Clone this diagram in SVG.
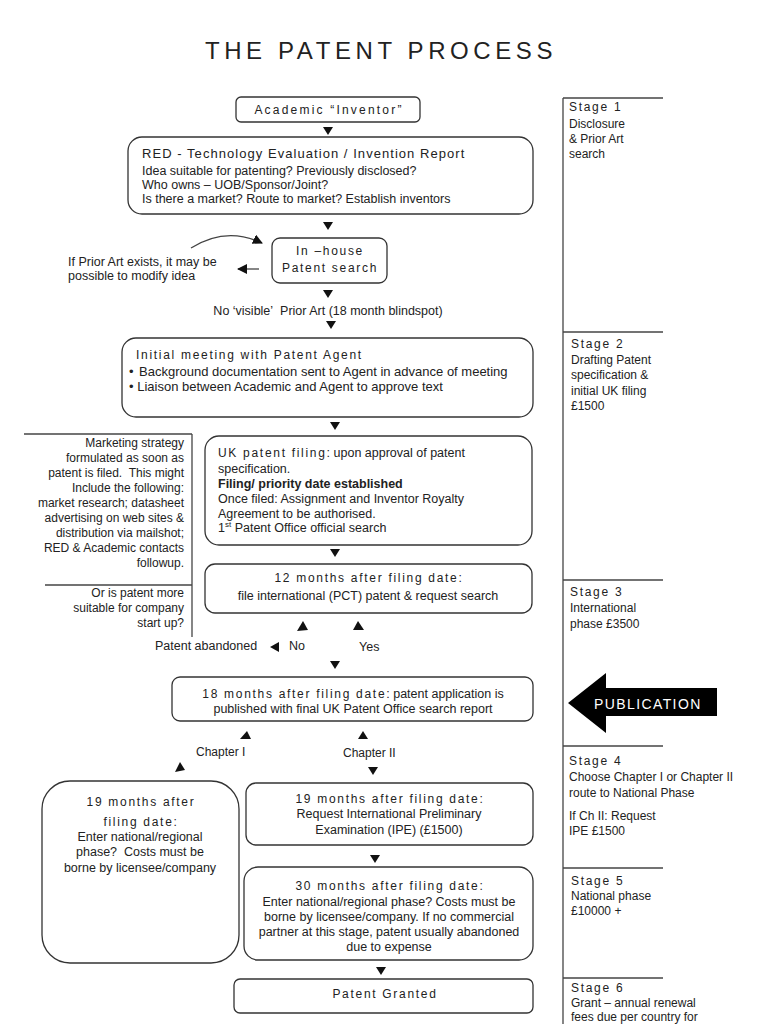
<svg xmlns="http://www.w3.org/2000/svg" width="768" height="1024" viewBox="0 0 768 1024">
<defs>
<style>
.t{font-family:"Liberation Sans",Arial,Helvetica,sans-serif;font-size:12px;fill:#222}
.b{font-size:12.5px}
.sp{font-size:12px;letter-spacing:1.7px}
.m{text-anchor:middle}
.e{text-anchor:end}
.box{fill:#fff;stroke:#333;stroke-width:1.3}
.ln{fill:none;stroke:#444;stroke-width:1.3}
.tri{fill:#111}
</style>
<marker id="ah" viewBox="0 0 10 10" refX="9" refY="5" markerUnits="userSpaceOnUse" markerWidth="10" markerHeight="10" orient="auto">
<path d="M0,0 L10,5 L0,10 z" fill="#111"/>
</marker>
</defs>
<rect width="768" height="1024" fill="#fff"/>

<text x="381" y="59" class="t m" style="font-size:24px;letter-spacing:4.6px">THE PATENT PROCESS</text>

<!-- stage column -->
<g id="stages">
<line x1="563" y1="98" x2="563" y2="1024" class="ln"/>
<line x1="563" y1="98" x2="663" y2="98" class="ln"/>
<line x1="563" y1="332" x2="663" y2="332" class="ln"/>
<line x1="563" y1="580" x2="663" y2="580" class="ln"/>
<line x1="563" y1="746" x2="663" y2="746" class="ln"/>
<line x1="563" y1="868" x2="663" y2="868" class="ln"/>
<line x1="563" y1="978" x2="663" y2="978" class="ln"/>
<text x="569" y="111" class="t sp">Stage 1</text>
<text x="569" y="128" class="t">Disclosure</text>
<text x="569" y="143" class="t">&amp; Prior Art</text>
<text x="569" y="158" class="t">search</text>
<text x="571" y="348" class="t sp">Stage 2</text>
<text x="571" y="364" class="t">Drafting Patent</text>
<text x="571" y="379" class="t">specification &amp;</text>
<text x="571" y="395" class="t">initial UK filing</text>
<text x="571" y="410" class="t">£1500</text>
<text x="570" y="596" class="t sp">Stage 3</text>
<text x="570" y="612" class="t">International</text>
<text x="570" y="628" class="t">phase £3500</text>
<text x="569" y="765" class="t sp">Stage 4</text>
<text x="569" y="781" class="t">Choose Chapter I or Chapter II</text>
<text x="569" y="797" class="t">route to National Phase</text>
<text x="569" y="820" class="t">If Ch II: Request</text>
<text x="569" y="835" class="t">IPE £1500</text>
<text x="571" y="885" class="t sp">Stage 5</text>
<text x="571" y="900" class="t">National phase</text>
<text x="571" y="915" class="t">£10000 +</text>
<text x="571" y="992" class="t sp">Stage 6</text>
<text x="571" y="1007" class="t">Grant – annual renewal</text>
<text x="571" y="1021" class="t">fees due per country for</text>
</g>

<g id="publication">
<polygon points="568,703 606,673 606,688 717,688 717,716 606,716 606,733" fill="#000"/>
<text x="594" y="709" class="t" style="font-size:14px;letter-spacing:1.4px;fill:#fff">PUBLICATION</text>
</g>

<g id="inventor">
<rect x="236" y="97" width="184" height="25" rx="5" class="box"/>
<text x="329" y="114" class="t m" style="letter-spacing:2.2px">Academic “Inventor”</text>
</g>

<g id="red">
<rect x="128" y="137" width="405" height="77" rx="14" class="box"/>
<text x="142" y="158" class="t" style="font-size:13px;letter-spacing:1.05px">RED - Technology Evaluation / Invention Report</text>
<text x="142" y="175" class="t b">Idea suitable for patenting? Previously disclosed?</text>
<text x="142" y="189" class="t b">Who owns – UOB/Sponsor/Joint?</text>
<text x="142" y="203" class="t b">Is there a market? Route to market? Establish inventors</text>
</g>

<g id="inhouse">
<rect x="272" y="238" width="115" height="45" rx="8" class="box"/>
<text x="330" y="255" class="t m sp">In –house</text>
<text x="330" y="272" class="t m sp">Patent search</text>
</g>

<g id="priorart">
<text x="68" y="266" class="t b">If Prior Art exists, it may be</text>
<text x="68" y="280" class="t b">possible to modify idea</text>
</g>

<g id="novisible">
<text x="328" y="315" class="t b m">No ‘visible’&#160; Prior Art (18 month blindspot)</text>
</g>

<g id="meeting">
<rect x="122" y="338" width="411" height="79" rx="14" class="box"/>
<text x="136" y="359" class="t sp">Initial meeting with Patent Agent</text>
<text x="129" y="376" class="t" style="font-size:13px">•</text>
<text x="139" y="376" class="t" style="font-size:13px">Background documentation sent to Agent in advance of meeting</text>
<text x="129" y="391" class="t" style="font-size:13px">• Liaison between Academic and Agent to approve text</text>
</g>

<g id="marketing">
<line x1="24" y1="434" x2="192" y2="434" class="ln"/>
<line x1="192" y1="434" x2="192" y2="637" class="ln"/>
<line x1="45" y1="585" x2="192" y2="585" class="ln"/>
<text x="184" y="447" class="t e">Marketing strategy</text>
<text x="184" y="462" class="t e">formulated as soon as</text>
<text x="184" y="477" class="t e">patent is filed.&#160; This might</text>
<text x="184" y="492" class="t e">Include the following:</text>
<text x="184" y="507" class="t e">market research; datasheet</text>
<text x="184" y="522" class="t e">advertising on web sites &amp;</text>
<text x="184" y="537" class="t e">distribution via mailshot;</text>
<text x="184" y="552" class="t e">RED &amp; Academic contacts</text>
<text x="184" y="567" class="t e">followup.</text>
<text x="184" y="597" class="t e">Or is patent more</text>
<text x="184" y="612" class="t e">suitable for company</text>
<text x="184" y="627" class="t e">start up?</text>
</g>

<g id="ukfiling">
<rect x="205" y="436" width="327" height="109" rx="14" class="box"/>
<text x="218" y="457" class="t b"><tspan class="sp">UK patent filing</tspan>: upon approval of patent</text>
<text x="218" y="473" class="t b">specification.</text>
<text x="218" y="488" class="t b" font-weight="bold">Filing/ priority date established</text>
<text x="218" y="503" class="t b">Once filed: Assignment and Inventor Royalty</text>
<text x="218" y="518" class="t b">Agreement to be authorised.</text>
<text x="218" y="532" class="t b">1<tspan dy="-5" style="font-size:8px">st</tspan><tspan dy="5"> Patent Office official search</tspan></text>
</g>

<g id="pct">
<rect x="205" y="564" width="327" height="49" rx="10" class="box"/>
<text x="369" y="582" class="t m sp">12 months after filing date:</text>
<text x="368" y="600" class="t b m">file international (PCT) patent &amp; request search</text>
</g>

<g id="abandoned">
<text x="155" y="650" class="t b">Patent abandoned</text>
<text x="289" y="650" class="t b">No</text>
<text x="359" y="651" class="t b">Yes</text>
</g>

<g id="published">
<rect x="172" y="677" width="361" height="44" rx="8" class="box"/>
<text x="353" y="698" class="t b m"><tspan class="sp">18 months after filing date</tspan>: patent application is</text>
<text x="353" y="713" class="t b m">published with final UK Patent Office search report</text>
</g>

<g id="chapters">
<text x="196" y="756" class="t">Chapter I</text>
<text x="343" y="757" class="t">Chapter II</text>
</g>

<g id="ch1">
<rect x="42" y="781" width="197" height="182" rx="28" class="box"/>
<text x="141" y="806" class="t m sp">19 months after</text>
<text x="141" y="826" class="t m sp">filing date:</text>
<text x="140" y="841" class="t b m">Enter national/regional</text>
<text x="140" y="856" class="t b m">phase?&#160; Costs must be</text>
<text x="140" y="872" class="t b m">borne by licensee/company</text>
</g>

<g id="ipe">
<rect x="246" y="783" width="287" height="62" rx="10" class="box"/>
<text x="390" y="803" class="t m sp">19 months after filing date:</text>
<text x="389" y="818" class="t b m">Request International Preliminary</text>
<text x="389" y="834" class="t b m">Examination (IPE) (£1500)</text>
</g>

<g id="national">
<rect x="244" y="867" width="289" height="93" rx="14" class="box"/>
<text x="390" y="890" class="t m sp">30 months after filing date:</text>
<text x="389" y="906" class="t b m">Enter national/regional phase? Costs must be</text>
<text x="389" y="921" class="t b m">borne by licensee/company. If no commercial</text>
<text x="389" y="936" class="t b m">partner at this stage, patent usually abandoned</text>
<text x="389" y="951" class="t b m">due to expense</text>
</g>

<g id="granted">
<rect x="234" y="979" width="299" height="34" rx="6" class="box"/>
<text x="385" y="998" class="t m sp">Patent Granted</text>
</g>

<g id="connectors">
<polygon class="tri" points="323,127 333,127 328,135"/>
<polygon class="tri" points="323,222 333,222 328,230"/>
<polygon class="tri" points="323,290 333,290 328,298"/>
<polygon class="tri" points="326,321 336,321 331,329"/>
<polygon class="tri" points="330,422 340,422 335,430"/>
<polygon class="tri" points="330,549 340,549 335,557"/>
<polygon class="tri" points="330,661 340,661 335,669"/>
<polygon class="tri" points="368,767 378,767 373,775"/>
<polygon class="tri" points="370,855 380,855 375,863"/>
<polygon class="tri" points="376,967 386,967 381,975"/>
<path d="M191,248 Q226,226 262,243" class="ln" stroke="#111" marker-end="url(#ah)"/>
<line x1="259" y1="269" x2="238" y2="269" class="ln" stroke="#111" marker-end="url(#ah)"/>
<polygon class="tri" points="270,647 279,642 279,652"/>
<polygon class="tri" points="297,631 303,621 308,630"/>
<polygon class="tri" points="353,630 358,621 364,630"/>
<polygon class="tri" points="240,739 247,731 251,739"/>
<polygon class="tri" points="358,739 363,731 368,739"/>
<polygon class="tri" points="175,772 180,762 185,770"/>
</g>
</svg>
